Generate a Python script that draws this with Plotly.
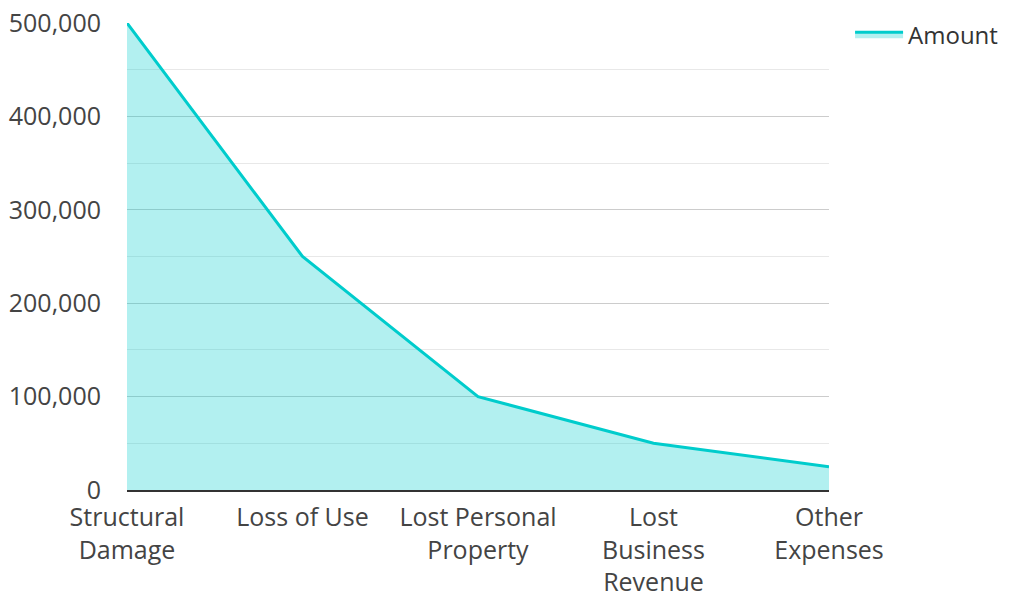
import plotly.graph_objects as go

categories = ["Structural<br>Damage", "Loss of Use", "Lost Personal<br>Property",
              "Lost<br>Business<br>Revenue", "Other<br>Expenses"]
amounts = [500000, 250000, 100000, 50000, 25000]
series_name = "Amount"

fig = go.Figure()
fig.add_trace(go.Scatter(
    x=list(range(len(categories))), y=amounts, name=series_name,
    mode="lines", fill="tozeroy",
    line=dict(color="#00cccc", width=3),
    fillcolor="rgba(0,204,204,0.3)",
))

font = "Open Sans, Noto Sans, sans-serif"
fig.update_layout(
    width=1003, height=586,
    margin=dict(l=119, r=182, t=15, b=104, autoexpand=False),
    paper_bgcolor="white", plot_bgcolor="white",
    font=dict(family=font, size=25, color="#444444"),
    showlegend=True,
    legend=dict(x=1.03, y=1.023, xanchor="left", yanchor="top", itemwidth=48,
                font=dict(size=24, color="#333333"), bgcolor="rgba(0,0,0,0)"),
    xaxis=dict(
        range=[0, 4], tickmode="array", tickvals=list(range(len(categories))),
        ticktext=categories, showgrid=False, zeroline=False, automargin=False,
        showline=True, linecolor="#333333", linewidth=2,
        ticks="outside", ticklen=4, tickcolor="rgba(0,0,0,0)",
        ticklabeloverflow="allow",
    ),
    yaxis=dict(
        range=[0, 500000], dtick=100000, tickformat=",d", automargin=False,
        showgrid=True, gridcolor="#cccccc", gridwidth=1,
        minor=dict(dtick=50000, showgrid=True, gridcolor="#e8e8e8", gridwidth=1),
        zeroline=False, showline=False,
        ticks="outside", ticklen=20, tickcolor="rgba(0,0,0,0)",
        ticklabeloverflow="allow",
    ),
)

fig.write_html("out.html")
